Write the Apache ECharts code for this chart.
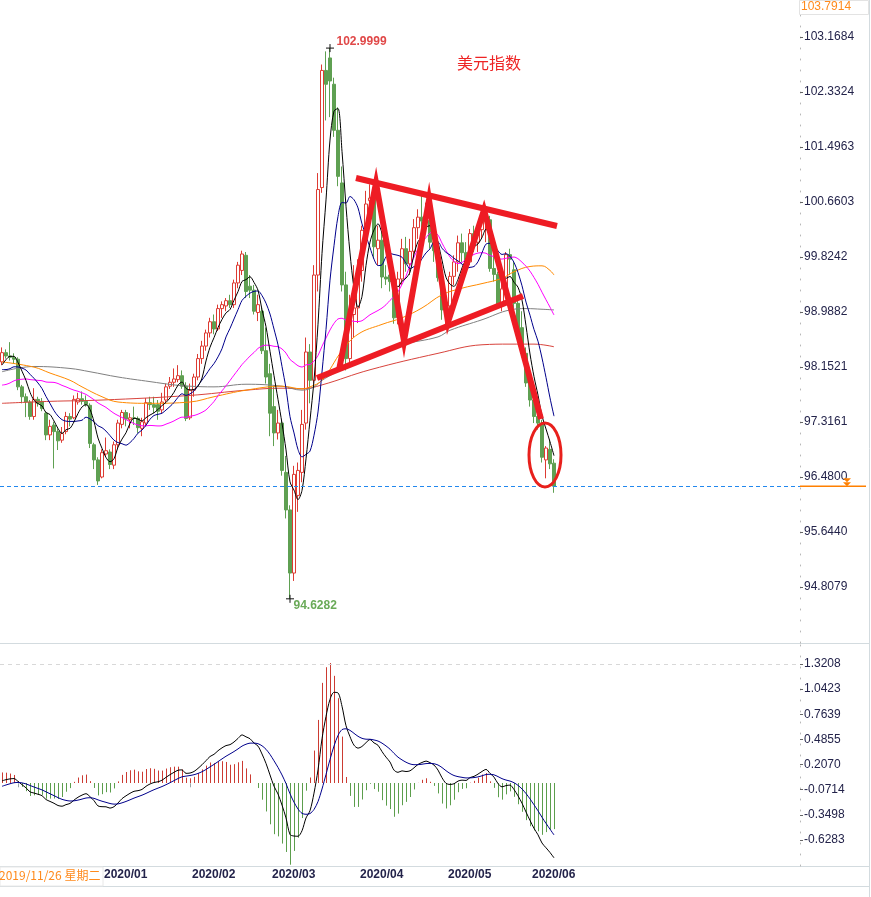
<!DOCTYPE html>
<html><head><meta charset="utf-8">
<script src="https://cdn.jsdelivr.net/npm/echarts@6/dist/echarts.min.js"></script>
<style>html,body{margin:0;padding:0;background:#fff}#c{width:871px;height:897px}</style>
</head><body><div id="c"></div>
<script>
// ---------- DATA ----------
const dates = [
'2019/11/26','2019/11/27','2019/11/28','2019/11/29',
'2019/12/02','2019/12/03','2019/12/04','2019/12/05','2019/12/06','2019/12/09','2019/12/10','2019/12/11','2019/12/12','2019/12/13',
'2019/12/16','2019/12/17','2019/12/18','2019/12/19','2019/12/20','2019/12/23','2019/12/24','2019/12/26','2019/12/27','2019/12/30','2019/12/31',
'2020/01/02','2020/01/03','2020/01/06','2020/01/07','2020/01/08','2020/01/09','2020/01/10','2020/01/13','2020/01/14','2020/01/15','2020/01/16',
'2020/01/17','2020/01/20','2020/01/21','2020/01/22','2020/01/23','2020/01/24','2020/01/27','2020/01/28','2020/01/29','2020/01/30','2020/01/31',
'2020/02/03','2020/02/04','2020/02/05','2020/02/06','2020/02/07','2020/02/10','2020/02/11','2020/02/12','2020/02/13','2020/02/14',
'2020/02/17','2020/02/18','2020/02/19','2020/02/20','2020/02/21','2020/02/24','2020/02/25','2020/02/26','2020/02/27','2020/02/28',
'2020/03/02','2020/03/03','2020/03/04','2020/03/05','2020/03/06','2020/03/09','2020/03/10','2020/03/11','2020/03/12','2020/03/13',
'2020/03/16','2020/03/17','2020/03/18','2020/03/19','2020/03/20','2020/03/23','2020/03/24','2020/03/25','2020/03/26','2020/03/27','2020/03/30','2020/03/31',
'2020/04/01','2020/04/02','2020/04/03','2020/04/06','2020/04/07','2020/04/08','2020/04/09','2020/04/10','2020/04/13','2020/04/14','2020/04/15',
'2020/04/16','2020/04/17','2020/04/20','2020/04/21','2020/04/22','2020/04/23','2020/04/24','2020/04/27','2020/04/28','2020/04/29','2020/04/30',
'2020/05/01','2020/05/04','2020/05/05','2020/05/06','2020/05/07','2020/05/08','2020/05/11','2020/05/12','2020/05/13','2020/05/14','2020/05/15',
'2020/05/18','2020/05/19','2020/05/20','2020/05/21','2020/05/22','2020/05/25','2020/05/26','2020/05/27','2020/05/28','2020/05/29',
'2020/06/01','2020/06/02','2020/06/03','2020/06/04','2020/06/05','2020/06/08','2020/06/09'];

const opens = [
98.23,98.37,98.32,98.30,
98.27,97.85,97.70,97.62,97.40,97.66,97.63,97.45,97.12,97.27,
97.17,97.04,97.17,97.40,97.38,97.62,97.67,97.63,97.57,96.97,96.74,
96.48,96.83,96.86,96.66,96.97,97.28,97.46,97.35,97.38,97.37,97.22,
97.30,97.61,97.58,97.58,97.50,97.65,97.86,97.92,97.96,98.02,97.86,
97.38,97.80,98.00,98.28,98.47,98.67,98.84,98.73,99.04,99.08,
99.16,99.10,99.43,99.62,99.85,99.38,99.32,98.98,99.00,98.40,
98.05,97.55,97.15,97.30,96.55,95.98,95.02,96.20,96.55,97.30,
98.38,97.95,99.55,100.88,102.66,102.85,102.45,101.75,100.95,99.40,98.28,98.95,
99.05,99.62,100.23,100.68,100.70,99.95,100.08,99.52,99.55,99.45,98.90,
99.49,99.95,99.72,99.91,100.27,100.43,100.37,100.38,100.05,99.92,99.51,
99.02,99.08,99.53,99.75,100.04,99.89,99.75,100.18,100.05,100.24,100.38,
100.39,99.65,99.56,99.09,99.34,99.86,99.63,99.12,98.75,98.36,
97.91,97.65,97.40,97.30,96.74,96.90,96.69];

const highs = [
98.45,98.42,98.53,98.36,
98.30,97.88,97.75,97.65,97.83,97.70,97.68,97.48,97.35,97.32,
97.22,97.24,97.47,97.45,97.72,97.76,97.78,97.72,97.60,97.00,96.78,
96.90,97.08,96.90,97.02,97.35,97.50,97.50,97.45,97.55,97.40,97.38,
97.68,97.70,97.70,97.65,97.76,97.90,98.00,98.13,98.18,98.10,97.92,
97.90,98.05,98.35,98.55,98.72,98.90,98.95,99.10,99.15,99.20,
99.25,99.48,99.75,99.92,99.90,99.55,99.40,99.25,99.05,98.75,
98.20,97.85,97.50,97.35,96.80,96.05,96.65,96.70,97.50,98.60,
98.50,99.70,101.10,102.75,102.95,102.9999,102.55,102.10,101.20,99.60,99.25,99.70,
99.79,100.30,100.83,100.93,100.80,100.30,100.20,99.70,99.75,99.55,99.60,
100.10,100.13,100.10,100.40,100.55,100.80,100.65,100.45,100.20,100.05,99.55,
99.25,99.60,99.85,100.15,100.18,100.05,100.25,100.30,100.35,100.56,100.50,
100.45,99.85,99.60,99.45,99.90,99.95,99.75,99.20,99.00,98.45,
98.05,97.80,97.50,97.35,96.95,97.05,96.75];

const lows = [
98.18,98.28,98.25,98.20,
97.80,97.60,97.39,97.35,97.35,97.55,97.48,97.04,97.04,96.61,
96.89,97.00,97.13,97.25,97.36,97.58,97.58,97.55,96.92,96.60,96.36,
96.46,96.80,96.60,96.60,96.90,97.22,97.25,97.22,97.27,97.15,97.10,
97.25,97.50,97.45,97.35,97.45,97.60,97.82,97.85,97.92,97.82,97.33,
97.35,97.70,97.95,98.20,98.40,98.60,98.65,98.70,98.90,99.00,
99.05,99.05,99.35,99.55,99.20,99.20,98.95,98.85,98.35,97.90,
97.10,96.95,97.05,96.50,95.85,94.6282,94.90,95.95,96.40,97.20,
97.60,97.90,99.30,100.80,101.90,101.95,101.65,100.90,99.30,98.10,98.20,98.60,
98.82,99.45,100.08,100.40,99.80,99.70,99.35,99.40,99.30,98.81,98.80,
99.40,99.60,99.55,99.80,100.10,100.20,100.25,99.95,99.75,99.45,98.87,
98.78,99.00,99.40,99.60,99.75,99.65,99.70,99.90,99.90,100.10,100.05,
99.60,99.45,99.05,99.00,99.30,99.55,99.05,98.65,98.30,97.85,
97.55,97.30,97.20,96.70,96.46,96.60,96.24];

const closes = [
98.37,98.32,98.30,98.27,
97.85,97.70,97.62,97.40,97.66,97.60,97.52,97.12,97.25,97.17,
97.03,97.14,97.40,97.36,97.66,97.67,97.63,97.58,96.99,96.74,96.42,
96.85,96.88,96.67,96.97,97.30,97.46,97.36,97.38,97.37,97.23,97.32,
97.61,97.58,97.54,97.48,97.62,97.85,97.92,97.97,98.02,97.86,97.37,
97.80,98.00,98.28,98.47,98.67,98.84,98.73,99.04,99.10,99.16,
99.10,99.43,99.70,99.87,99.30,99.32,99.00,99.10,98.40,98.00,
97.45,97.15,97.30,96.58,95.98,95.02,96.52,96.58,97.28,98.38,
97.95,99.55,100.85,102.66,102.45,102.50,101.75,101.05,99.40,98.28,98.95,99.05,
99.62,100.23,100.63,100.72,99.98,100.08,99.52,99.49,99.45,98.90,99.49,
99.95,99.72,99.91,100.27,100.43,100.37,100.38,100.05,99.92,99.51,99.02,
99.08,99.53,99.75,100.04,99.89,99.75,100.18,100.05,100.24,100.38,100.39,
99.65,99.56,99.09,99.34,99.86,99.79,99.12,98.71,98.36,97.91,
97.65,97.40,97.30,96.78,96.92,96.68,96.34];

// closes before the visible window (needed to start the averages / MACD)
const warmupCloses = [99.00,98.87,98.86,98.80,98.98,99.10,98.85,98.71,98.30,98.45,98.30,98.02,97.62,97.29,97.33,97.52,97.47,97.70,97.83,97.79,
97.68,97.70,97.35,97.25,97.54,97.99,98.08,98.16,98.35,98.19,98.32,98.32,98.16,97.99,97.87,97.88,97.91,98.05,98.27,98.31];

// long moving averages: [slot, value]
const ma60Pts = [[0,98.23],[8,98.15],[12,98.06],[17,97.95],[20,97.85],[25,97.70],[29,97.62],[37,97.60],[47,97.62],[53,97.70],[61,97.80],[70,97.86],
[75,97.82],[77,97.85],[80,97.95],[85,98.40],[89,98.65],[95,98.80],[100,98.90],[105,99.05],[110,99.25],[115,99.35],[120,99.42],[125,99.50],
[128,99.60],[132,99.68],[135,99.69],[137,99.62],[138,99.55]];
const ma120Pts = [[0,98.08],[8,98.16],[17,98.13],[22,98.08],[29,98.00],[37,97.93],[43,97.88],[47,97.86],[53,97.85],[61,97.89],[70,97.86],[75,97.80],
[78,97.85],[80,97.95],[87,98.18],[92,98.31],[100,98.49],[109,98.61],[112,98.71],[120,98.87],[127,99.02],[131,99.04],[135,99.03],[138,99.02]];
const ma250Pts = [[0,97.60],[12,97.63],[25,97.65],[47,97.72],[61,97.80],[70,97.83],[75,97.82],[80,97.88],[92,98.11],[109,98.36],[120,98.49],
[127,98.50],[133,98.50],[138,98.46]];

// hand-drawn annotations: [slot, price]
const trendUpper = [[88.5,101.025],[138.75,100.296]];
const trendLower = [[78.75,97.985],[130.25,99.232]];
const zigzag = [[84.25,98.107],[93.5,100.949],[100.5,98.548],[106.75,100.691],[111.5,98.836],[120.5,100.539],[134.75,97.362]];
const circleMark = [[135.75,96.815,4,0.486]]; // centre slot, centre price, half-width (slots), half-height (price)

const priceTicks = [94.8079,95.6440,96.4800,97.3161,98.1521,98.9882,99.8242,100.6603,101.4963,102.3324,103.1684];
const macdTicks = [-0.6283,-0.3498,-0.0714,0.2070,0.4855,0.7639,1.0423,1.3208];
const titleText = '美元指数';
const cursorDate = '2019/11/26 星期二';
const cursorPrice = '103.7914';
const futureSlots = 61;

// ---------- BUILD ----------
const N = dates.length;
const cats = dates.concat(Array.from({length: futureSlots}, (_, k) => '+' + (k + 1)));
const allCloses = warmupCloses.concat(closes);
const OFF = warmupCloses.length;
function sma(n) {
  return closes.map((_, i) => {
    const j = OFF + i; if (j < n - 1) return null;
    let s = 0; for (let k = j - n + 1; k <= j; k++) s += allCloses[k];
    return +(s / n).toFixed(4);
  });
}
const dif = [], dea = [], hist = [];
(function () {
  let e12 = allCloses[0], e26 = allCloses[0], d9 = 0;
  allCloses.forEach((c, j) => {
    if (j > 0) { e12 += (c - e12) * 2 / 13; e26 += (c - e26) * 2 / 27; }
    const d = e12 - e26;
    d9 = j === 0 ? d : d9 + (d - d9) * 2 / 10;
    if (j >= OFF) { dif.push(+d.toFixed(4)); dea.push(+d9.toFixed(4)); hist.push(+(2 * (d - d9)).toFixed(4)); }
  });
})();
const candles = dates.map((d, i) => [opens[i], closes[i], lows[i], highs[i]]);
let hiIdx = 0, loIdx = 0;
highs.forEach((v, i) => { if (v > highs[hiIdx]) hiIdx = i; });
lows.forEach((v, i) => { if (v < lows[loIdx]) loIdx = i; });
const monthStart = new Set();
dates.forEach((d, i) => { if (i > 0 && d.slice(0, 7) !== dates[i - 1].slice(0, 7)) monthStart.add(i); });

const RED = '#dd3b33', GREEN = '#5fa052';
const LBL = {color: '#23234a', fontSize: 12, fontFamily: 'Liberation Sans, Arial, sans-serif'};
const W = 800, TOT = cats.length;

const chart = echarts.init(document.getElementById('c'), null, {renderer: 'canvas'});
const option = {
  animation: false,
  backgroundColor: '#fff',
  title: {text: titleText, left: 457, top: 55, padding: 0,
    textStyle: {color: '#ee2424', fontSize: 16, fontWeight: 'normal', fontFamily: 'Noto Sans CJK SC'}},
  grid: [
    {left: 0, top: 0, width: W, height: 643},
    {left: 0, top: 643, width: W, height: 223}
  ],
  xAxis: [
    {type: 'category', gridIndex: 0, data: cats, boundaryGap: true, show: false},
    {type: 'category', gridIndex: 1, data: cats, boundaryGap: true,
      axisLine: {show: false},
      axisTick: {show: true, length: 4, alignWithLabel: true, interval: (i) => monthStart.has(i), lineStyle: {color: '#9aa4aa'}},
      axisLabel: {show: true, interval: (i) => monthStart.has(i), formatter: (v) => v.slice(0, 7), align: 'left',
        margin: 3, padding: [0, 0, 0, 2], color: '#23234a', fontSize: 12, fontWeight: 'bold', fontFamily: 'Liberation Sans, Arial, sans-serif'},
      splitLine: {show: false}},
    {type: 'value', gridIndex: 0, min: -0.5, max: TOT - 0.5, show: false, axisLine: {onZero: false}}
  ],
  yAxis: [
    {type: 'value', gridIndex: 0, position: 'right', scale: true,
      min: 94.8079 - 56 / 65.786, max: 103.1684 + 37 / 65.786,
      axisLine: {show: true, onZero: false, lineStyle: {color: '#b8b8b8', type: [1, 10]}},
      axisTick: {show: true, length: 3, customValues: priceTicks, lineStyle: {color: '#666'}},
      axisLabel: Object.assign({show: true, margin: 4, customValues: priceTicks, formatter: (v) => v.toFixed(4)}, LBL),
      splitLine: {show: false}},
    {type: 'value', gridIndex: 1, position: 'right',
      min: -0.6283 - 26 / 90.30, max: 1.3208 + 21 / 90.30,
      axisLine: {show: true, onZero: false, lineStyle: {color: '#b8b8b8', type: [1, 10]}},
      axisTick: {show: true, length: 3, customValues: macdTicks, lineStyle: {color: '#666'}},
      axisLabel: Object.assign({show: true, margin: 4, customValues: macdTicks, formatter: (v) => v.toFixed(4)}, LBL),
      splitLine: {show: false}}
  ],
  series: [
    {type: 'candlestick', xAxisIndex: 0, yAxisIndex: 0, data: candles, barWidth: 3, z: 2,
      itemStyle: {color: '#ffffff', color0: GREEN, borderColor: RED, borderColor0: GREEN, borderWidth: 1},
      markLine: {silent: true, symbol: ['none', 'none'], label: {show: false},
        lineStyle: {color: '#2288ee', type: [4, 3], width: 1}, data: [{yAxis: closes[N - 1]}]},
      markPoint: {silent: true, data: [
        {coord: [hiIdx, highs[hiIdx]], symbol: 'path://M0,4L8,4M4,0L4,8', symbolSize: 8,
          itemStyle: {color: 'none', borderColor: '#111', borderWidth: 1},
          label: {show: true, position: 'right', distance: 1, offset: [-1, -6], formatter: highs[hiIdx].toFixed(4),
            color: '#e04848', fontWeight: 'bold', fontSize: 12, fontFamily: 'Liberation Sans, Arial'}},
        {coord: [loIdx, lows[loIdx]], symbol: 'path://M0,4L8,4M4,0L4,8', symbolSize: 8,
          itemStyle: {color: 'none', borderColor: '#111', borderWidth: 1},
          label: {show: true, position: 'right', distance: 0, offset: [-3, 7], formatter: lows[loIdx].toFixed(4),
            color: '#6aaa58', fontWeight: 'bold', fontSize: 12, fontFamily: 'Liberation Sans, Arial'}}
      ]}},
    {type: 'line', name: 'MA250', xAxisIndex: 2, yAxisIndex: 0, data: ma250Pts, smooth: 0.4, showSymbol: false, z: 3,
      lineStyle: {color: '#d8433c', width: 1}},
    {type: 'line', name: 'MA120', xAxisIndex: 2, yAxisIndex: 0, data: ma120Pts, smooth: 0.4, showSymbol: false, z: 3,
      lineStyle: {color: '#808080', width: 1}},
    {type: 'line', name: 'MA60', xAxisIndex: 2, yAxisIndex: 0, data: ma60Pts, smooth: 0.4, showSymbol: false, z: 3,
      lineStyle: {color: '#ff8a00', width: 1}},
    {type: 'line', name: 'MA30', xAxisIndex: 0, yAxisIndex: 0, data: sma(30), smooth: 0.3, showSymbol: false, z: 3,
      lineStyle: {color: '#ff00ff', width: 1}},
    {type: 'line', name: 'MA10', xAxisIndex: 0, yAxisIndex: 0, data: sma(10), smooth: 0.3, showSymbol: false, z: 3,
      lineStyle: {color: '#00008b', width: 1}},
    {type: 'line', name: 'MA5', xAxisIndex: 0, yAxisIndex: 0, data: sma(5), smooth: 0.3, showSymbol: false, z: 3,
      lineStyle: {color: '#000000', width: 1}},
    {type: 'line', xAxisIndex: 2, yAxisIndex: 0, data: trendUpper, showSymbol: false, z: 6, silent: true,
      lineStyle: {color: '#ee1c24', width: 6}},
    {type: 'line', xAxisIndex: 2, yAxisIndex: 0, data: trendLower, showSymbol: false, z: 6, silent: true,
      lineStyle: {color: '#ee1c24', width: 6}},
    {type: 'line', xAxisIndex: 2, yAxisIndex: 0, data: zigzag, showSymbol: false, z: 6, silent: true,
      lineStyle: {color: '#ee1c24', width: 6, join: 'miter'}},
    {type: 'custom', xAxisIndex: 2, yAxisIndex: 0, data: circleMark, z: 6, silent: true,
      renderItem: function (params, api) {
        const c = api.coord([api.value(0), api.value(1)]);
        const e = api.coord([api.value(0) + api.value(2), api.value(1) - api.value(3)]);
        return {type: 'ellipse', shape: {cx: c[0], cy: c[1], rx: Math.abs(e[0] - c[0]), ry: Math.abs(e[1] - c[1])},
          style: {fill: 'none', stroke: '#e8201c', lineWidth: 3}};
      }},
    {type: 'custom', xAxisIndex: 1, yAxisIndex: 1, data: hist.map((v, i) => [i, v]), z: 2, silent: true,
      renderItem: function (params, api) {
        const p = api.coord([api.value(0), api.value(1)]);
        const z0 = api.coord([api.value(0), 0]);
        const x = Math.round(p[0]) + 0.5;
        return {type: 'line', shape: {x1: x, y1: Math.round(z0[1]), x2: x, y2: p[1]},
          style: {stroke: api.value(1) >= 0 ? '#cc3b32' : '#5c9e4c', lineWidth: 1}};
      }},
    {type: 'line', xAxisIndex: 1, yAxisIndex: 1, data: dif, smooth: 0.3, showSymbol: false, z: 3,
      lineStyle: {color: '#000000', width: 1},
      markLine: {silent: true, symbol: ['none', 'none'], label: {show: false},
        lineStyle: {color: '#d8d8d8', type: [4, 4], width: 1}, data: [{yAxis: macdTicks[macdTicks.length - 1]}]}},
    {type: 'line', xAxisIndex: 1, yAxisIndex: 1, data: dea, smooth: 0.3, showSymbol: false, z: 3,
      lineStyle: {color: '#00008b', width: 1}}
  ]
};
chart.setOption(option);

const py = chart.convertToPixel({yAxisIndex: 0}, closes[N - 1]);
const BORDER = '#d3dbdf';
chart.setOption({graphic: [
  {type: 'line', silent: true, shape: {x1: 0, y1: 643.5, x2: 870, y2: 643.5}, style: {stroke: BORDER, lineWidth: 1}},
  {type: 'line', silent: true, shape: {x1: 0, y1: 866.5, x2: 870, y2: 866.5}, style: {stroke: BORDER, lineWidth: 1}},
  {type: 'line', silent: true, shape: {x1: 0, y1: 886.5, x2: 870, y2: 886.5}, style: {stroke: BORDER, lineWidth: 1}},
  {type: 'line', silent: true, shape: {x1: 869.5, y1: 0, x2: 869.5, y2: 897}, style: {stroke: BORDER, lineWidth: 1}},
  {type: 'rect', silent: true, shape: {x: 799.5, y: 0.5, width: 69, height: 14}, style: {fill: '#fff', stroke: '#e3e3e3'}, z: 10},
  {type: 'text', silent: true, x: 801, y: 1, z: 11, style: {text: cursorPrice, fill: '#ff8a1c', font: '12px "Liberation Sans", Arial'}},
  {type: 'rect', silent: true, shape: {x: 0, y: 867, width: 103, height: 19}, style: {fill: '#fff', stroke: '#e8e8e8'}, z: 10},
  {type: 'text', silent: true, x: -1, y: 869, z: 11, style: {text: cursorDate, fill: '#ff8a1c', font: '12px "Noto Sans CJK SC", sans-serif'}},
  {type: 'line', silent: true, shape: {x1: 800, y1: py, x2: 866, y2: py}, style: {stroke: '#ff8000', lineWidth: 1.5}, z: 10},
  {type: 'polygon', silent: true, shape: {points: [[843, py - 8], [851, py - 8], [847, py - 4]]}, style: {fill: '#ff8000'}, z: 10},
  {type: 'polygon', silent: true, shape: {points: [[843, py - 4], [851, py - 4], [847, py]]}, style: {fill: '#ff8000'}, z: 10}
]});
</script>
</body></html>
